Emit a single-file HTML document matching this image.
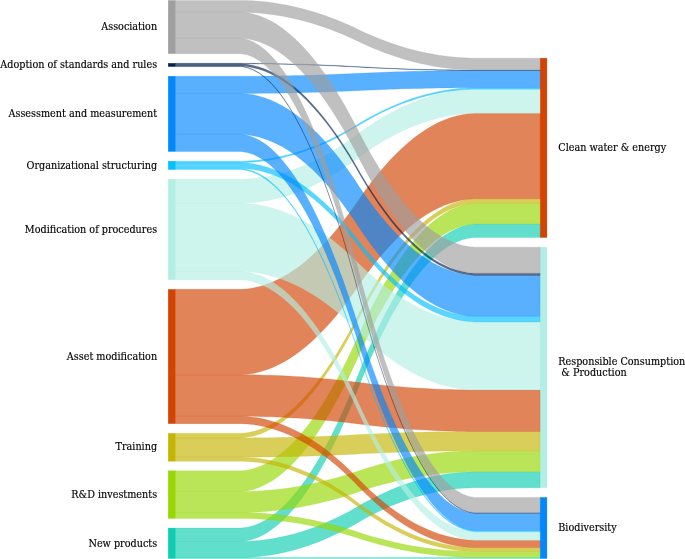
<!DOCTYPE html>
<html><head><meta charset="utf-8"><style>
html,body{margin:0;padding:0;background:#fff;width:685px;height:559px;overflow:hidden}
svg{display:block}
text{font-family:"DejaVu Serif","Liberation Serif",serif;font-size:10.40px;fill:#000;stroke:#000;stroke-width:0.15px;white-space:pre}
</style></head><body>
<svg width="685" height="559" viewBox="0 0 685 559">
<rect width="685" height="559" fill="#fff"/>
<rect x="168.20" y="528.06" width="7.10" height="30.51" fill="rgb(12,204,176)" stroke="rgb(12,204,176)" stroke-width="0.30" fill-opacity="0.99" stroke-opacity="0.99"/>
<rect x="168.20" y="470.84" width="7.10" height="47.60" fill="rgb(150,215,0)" stroke="rgb(150,215,0)" stroke-width="0.30" fill-opacity="0.99" stroke-opacity="0.99"/>
<rect x="168.20" y="433.29" width="7.10" height="27.92" fill="rgb(196,180,0)" stroke="rgb(196,180,0)" stroke-width="0.30" fill-opacity="0.99" stroke-opacity="0.99"/>
<rect x="168.20" y="289.34" width="7.10" height="134.33" fill="rgb(210,66,0)" stroke="rgb(210,66,0)" stroke-width="0.30" fill-opacity="0.99" stroke-opacity="0.99"/>
<rect x="168.20" y="179.21" width="7.10" height="100.51" fill="rgb(178,238,228)" stroke="rgb(178,238,228)" stroke-width="0.30" fill-opacity="0.99" stroke-opacity="0.99"/>
<rect x="168.20" y="161.14" width="7.10" height="8.44" fill="rgb(0,191,255)" stroke="rgb(0,191,255)" stroke-width="0.30" fill-opacity="0.99" stroke-opacity="0.99"/>
<rect x="168.20" y="76.24" width="7.10" height="75.28" fill="rgb(0,134,255)" stroke="rgb(0,134,255)" stroke-width="0.30" fill-opacity="0.99" stroke-opacity="0.99"/>
<rect x="168.20" y="63.28" width="7.10" height="3.34" fill="rgb(0,32,78)" stroke="rgb(0,32,78)" stroke-width="0.30" fill-opacity="0.99" stroke-opacity="0.99"/>
<rect x="168.20" y="0.42" width="7.10" height="53.23" fill="rgb(158,158,158)" stroke="rgb(158,158,158)" stroke-width="0.30" fill-opacity="0.99" stroke-opacity="0.99"/>
<rect x="540.10" y="497.40" width="6.85" height="61.17" fill="rgb(0,134,255)" stroke="rgb(0,134,255)" stroke-width="0.30" fill-opacity="0.99" stroke-opacity="0.99"/>
<rect x="540.10" y="247.15" width="6.85" height="240.63" fill="rgb(178,238,228)" stroke="rgb(178,238,228)" stroke-width="0.30" fill-opacity="0.99" stroke-opacity="0.99"/>
<rect x="540.10" y="58.16" width="6.85" height="179.36" fill="rgb(210,66,0)" stroke="rgb(210,66,0)" stroke-width="0.30" fill-opacity="0.99" stroke-opacity="0.99"/>
<path d="M175.30 557.55 L540.10 557.55 L540.10 558.57 L175.30 558.57Z" fill="rgb(12,204,176)" fill-opacity="0.65" stroke="rgb(12,204,176)" stroke-opacity="0.65" stroke-width="0.30"/>
<path d="M175.30 541.50 L241.08 541.50 L247.06 541.33 L253.04 540.98 L259.02 540.45 L265.00 539.76 L270.99 538.88 L276.97 537.84 L282.95 536.62 L288.93 535.22 L294.91 533.65 L300.89 531.91 L306.87 529.99 L312.85 527.89 L318.83 525.63 L324.81 523.18 L330.79 520.57 L336.77 517.78 L342.75 514.81 L348.73 511.67 L354.71 508.36 L360.69 504.87 L366.67 501.55 L372.65 498.42 L378.63 495.45 L384.61 492.66 L390.59 490.04 L396.57 487.60 L402.55 485.33 L408.53 483.24 L414.51 481.32 L420.49 479.58 L426.47 478.01 L432.45 476.61 L438.43 475.39 L444.41 474.34 L450.40 473.47 L456.38 472.77 L462.36 472.25 L468.34 471.90 L474.32 471.73 L540.10 471.73 L540.10 487.78 L474.32 487.78 L468.34 487.95 L462.36 488.30 L456.38 488.82 L450.40 489.52 L444.41 490.39 L438.43 491.44 L432.45 492.66 L426.47 494.06 L420.49 495.63 L414.51 497.37 L408.53 499.29 L402.55 501.38 L396.57 503.65 L390.59 506.09 L384.61 508.71 L378.63 511.50 L372.65 514.47 L366.67 517.60 L360.69 520.92 L354.71 524.41 L348.73 527.72 L342.75 530.86 L336.77 533.83 L330.79 536.62 L324.81 539.23 L318.83 541.68 L312.85 543.94 L306.87 546.04 L300.89 547.96 L294.91 549.70 L288.93 551.27 L282.95 552.67 L276.97 553.89 L270.99 554.93 L265.00 555.81 L259.02 556.50 L253.04 557.03 L247.06 557.38 L241.08 557.55 L175.30 557.55Z" fill="rgb(12,204,176)" fill-opacity="0.65" stroke="rgb(12,204,176)" stroke-opacity="0.65" stroke-width="0.30"/>
<path d="M175.30 528.06 L241.08 528.06 L247.06 527.30 L253.04 525.78 L259.02 523.50 L265.00 520.46 L270.99 516.66 L276.97 512.10 L282.95 506.78 L288.93 500.70 L294.91 493.86 L300.89 486.26 L306.87 477.90 L312.85 468.78 L318.83 458.91 L324.81 448.27 L330.79 436.87 L336.77 424.71 L342.75 411.79 L348.73 398.11 L354.71 383.67 L360.69 368.47 L366.67 354.03 L372.65 340.35 L378.63 327.44 L384.61 315.28 L390.59 303.88 L396.57 293.24 L402.55 283.36 L408.53 274.24 L414.51 265.88 L420.49 258.28 L426.47 251.44 L432.45 245.36 L438.43 240.04 L444.41 235.48 L450.40 231.68 L456.38 228.64 L462.36 226.36 L468.34 224.84 L474.32 224.08 L540.10 224.08 L540.10 237.52 L474.32 237.52 L468.34 238.28 L462.36 239.80 L456.38 242.08 L450.40 245.12 L444.41 248.92 L438.43 253.48 L432.45 258.80 L426.47 264.88 L420.49 271.72 L414.51 279.32 L408.53 287.68 L402.55 296.80 L396.57 306.68 L390.59 317.32 L384.61 328.72 L378.63 340.88 L372.65 353.79 L366.67 367.47 L360.69 381.91 L354.71 397.11 L348.73 411.55 L342.75 425.23 L336.77 438.15 L330.79 450.31 L324.81 461.71 L318.83 472.35 L312.85 482.22 L306.87 491.34 L300.89 499.70 L294.91 507.30 L288.93 514.14 L282.95 520.22 L276.97 525.54 L270.99 530.10 L265.00 533.90 L259.02 536.94 L253.04 539.22 L247.06 540.74 L241.08 541.50 L175.30 541.50Z" fill="rgb(12,204,176)" fill-opacity="0.65" stroke="rgb(12,204,176)" stroke-opacity="0.65" stroke-width="0.30"/>
<path d="M175.30 512.49 L241.08 512.49 L247.06 512.58 L253.04 512.78 L259.02 513.07 L265.00 513.46 L270.99 513.95 L276.97 514.54 L282.95 515.22 L288.93 516.01 L294.91 516.89 L300.89 517.86 L306.87 518.94 L312.85 520.11 L318.83 521.39 L324.81 522.75 L330.79 524.22 L336.77 525.79 L342.75 527.45 L348.73 529.21 L354.71 531.07 L360.69 533.02 L366.67 534.88 L372.65 536.64 L378.63 538.30 L384.61 539.87 L390.59 541.33 L396.57 542.70 L402.55 543.97 L408.53 545.15 L414.51 546.22 L420.49 547.20 L426.47 548.08 L432.45 548.86 L438.43 549.55 L444.41 550.13 L450.40 550.62 L456.38 551.01 L462.36 551.31 L468.34 551.50 L474.32 551.60 L540.10 551.60 L540.10 557.55 L474.32 557.55 L468.34 557.45 L462.36 557.26 L456.38 556.96 L450.40 556.57 L444.41 556.08 L438.43 555.50 L432.45 554.81 L426.47 554.03 L420.49 553.15 L414.51 552.17 L408.53 551.10 L402.55 549.92 L396.57 548.65 L390.59 547.28 L384.61 545.82 L378.63 544.25 L372.65 542.59 L366.67 540.83 L360.69 538.97 L354.71 537.02 L348.73 535.16 L342.75 533.40 L336.77 531.74 L330.79 530.17 L324.81 528.70 L318.83 527.34 L312.85 526.06 L306.87 524.89 L300.89 523.81 L294.91 522.84 L288.93 521.96 L282.95 521.17 L276.97 520.49 L270.99 519.90 L265.00 519.41 L259.02 519.02 L253.04 518.73 L247.06 518.53 L241.08 518.44 L175.30 518.44Z" fill="rgb(150,215,0)" fill-opacity="0.65" stroke="rgb(150,215,0)" stroke-opacity="0.65" stroke-width="0.30"/>
<path d="M175.30 491.56 L241.08 491.56 L247.06 491.45 L253.04 491.25 L259.02 490.95 L265.00 490.54 L270.99 490.03 L276.97 489.42 L282.95 488.70 L288.93 487.89 L294.91 486.97 L300.89 485.95 L306.87 484.83 L312.85 483.61 L318.83 482.28 L324.81 480.86 L330.79 479.33 L336.77 477.70 L342.75 475.97 L348.73 474.13 L354.71 472.20 L360.69 470.16 L366.67 468.22 L372.65 466.39 L378.63 464.66 L384.61 463.02 L390.59 461.50 L396.57 460.07 L402.55 458.75 L408.53 457.52 L414.51 456.40 L420.49 455.38 L426.47 454.47 L432.45 453.65 L438.43 452.94 L444.41 452.33 L450.40 451.82 L456.38 451.41 L462.36 451.10 L468.34 450.90 L474.32 450.80 L540.10 450.80 L540.10 471.73 L474.32 471.73 L468.34 471.83 L462.36 472.03 L456.38 472.34 L450.40 472.75 L444.41 473.26 L438.43 473.87 L432.45 474.58 L426.47 475.40 L420.49 476.31 L414.51 477.33 L408.53 478.45 L402.55 479.68 L396.57 481.00 L390.59 482.43 L384.61 483.95 L378.63 485.59 L372.65 487.32 L366.67 489.15 L360.69 491.09 L354.71 493.13 L348.73 495.06 L342.75 496.90 L336.77 498.63 L330.79 500.26 L324.81 501.79 L318.83 503.21 L312.85 504.54 L306.87 505.76 L300.89 506.88 L294.91 507.90 L288.93 508.82 L282.95 509.63 L276.97 510.35 L270.99 510.96 L265.00 511.47 L259.02 511.88 L253.04 512.18 L247.06 512.38 L241.08 512.49 L175.30 512.49Z" fill="rgb(150,215,0)" fill-opacity="0.65" stroke="rgb(150,215,0)" stroke-opacity="0.65" stroke-width="0.30"/>
<path d="M175.30 470.84 L241.08 470.84 L247.06 470.17 L253.04 468.83 L259.02 466.82 L265.00 464.15 L270.99 460.81 L276.97 456.79 L282.95 452.11 L288.93 446.76 L294.91 440.75 L300.89 434.06 L306.87 426.70 L312.85 418.68 L318.83 409.99 L324.81 400.63 L330.79 390.59 L336.77 379.90 L342.75 368.53 L348.73 356.49 L354.71 343.79 L360.69 330.41 L366.67 317.71 L372.65 305.67 L378.63 294.30 L384.61 283.61 L390.59 273.58 L396.57 264.21 L402.55 255.52 L408.53 247.50 L414.51 240.14 L420.49 233.45 L426.47 227.44 L432.45 222.09 L438.43 217.41 L444.41 213.39 L450.40 210.05 L456.38 207.38 L462.36 205.37 L468.34 204.03 L474.32 203.36 L540.10 203.36 L540.10 224.08 L474.32 224.08 L468.34 224.75 L462.36 226.09 L456.38 228.10 L450.40 230.77 L444.41 234.11 L438.43 238.13 L432.45 242.81 L426.47 248.16 L420.49 254.17 L414.51 260.86 L408.53 268.22 L402.55 276.24 L396.57 284.93 L390.59 294.30 L384.61 304.33 L378.63 315.02 L372.65 326.39 L366.67 338.43 L360.69 351.13 L354.71 364.51 L348.73 377.21 L342.75 389.25 L336.77 400.62 L330.79 411.31 L324.81 421.35 L318.83 430.71 L312.85 439.40 L306.87 447.42 L300.89 454.78 L294.91 461.47 L288.93 467.48 L282.95 472.83 L276.97 477.51 L270.99 481.53 L265.00 484.87 L259.02 487.54 L253.04 489.55 L247.06 490.89 L241.08 491.56 L175.30 491.56Z" fill="rgb(150,215,0)" fill-opacity="0.65" stroke="rgb(150,215,0)" stroke-opacity="0.65" stroke-width="0.30"/>
<path d="M175.30 457.21 L241.08 457.21 L247.06 457.44 L253.04 457.89 L259.02 458.57 L265.00 459.47 L270.99 460.60 L276.97 461.96 L282.95 463.54 L288.93 465.35 L294.91 467.38 L300.89 469.64 L306.87 472.13 L312.85 474.84 L318.83 477.78 L324.81 480.94 L330.79 484.33 L336.77 487.94 L342.75 491.79 L348.73 495.85 L354.71 500.15 L360.69 504.67 L366.67 508.96 L372.65 513.03 L378.63 516.87 L384.61 520.48 L390.59 523.87 L396.57 527.04 L402.55 529.97 L408.53 532.69 L414.51 535.17 L420.49 537.43 L426.47 539.47 L432.45 541.27 L438.43 542.85 L444.41 544.21 L450.40 545.34 L456.38 546.24 L462.36 546.92 L468.34 547.37 L474.32 547.60 L540.10 547.60 L540.10 551.60 L474.32 551.60 L468.34 551.37 L462.36 550.92 L456.38 550.24 L450.40 549.34 L444.41 548.21 L438.43 546.85 L432.45 545.27 L426.47 543.47 L420.49 541.43 L414.51 539.17 L408.53 536.69 L402.55 533.97 L396.57 531.04 L390.59 527.87 L384.61 524.48 L378.63 520.87 L372.65 517.03 L366.67 512.96 L360.69 508.67 L354.71 504.15 L348.73 499.85 L342.75 495.79 L336.77 491.94 L330.79 488.33 L324.81 484.94 L318.83 481.78 L312.85 478.84 L306.87 476.13 L300.89 473.64 L294.91 471.38 L288.93 469.35 L282.95 467.54 L276.97 465.96 L270.99 464.60 L265.00 463.47 L259.02 462.57 L253.04 461.89 L247.06 461.44 L241.08 461.21 L175.30 461.21Z" fill="rgb(196,180,0)" fill-opacity="0.65" stroke="rgb(196,180,0)" stroke-opacity="0.65" stroke-width="0.30"/>
<path d="M175.30 437.90 L241.08 437.90 L247.06 437.89 L253.04 437.86 L259.02 437.81 L265.00 437.74 L270.99 437.66 L276.97 437.57 L282.95 437.45 L288.93 437.33 L294.91 437.18 L300.89 437.02 L306.87 436.84 L312.85 436.65 L318.83 436.44 L324.81 436.22 L330.79 435.98 L336.77 435.72 L342.75 435.45 L348.73 435.16 L354.71 434.86 L360.69 434.53 L366.67 434.23 L372.65 433.94 L378.63 433.67 L384.61 433.41 L390.59 433.17 L396.57 432.95 L402.55 432.74 L408.53 432.55 L414.51 432.37 L420.49 432.21 L426.47 432.06 L432.45 431.94 L438.43 431.82 L444.41 431.73 L450.40 431.65 L456.38 431.58 L462.36 431.53 L468.34 431.50 L474.32 431.49 L540.10 431.49 L540.10 450.80 L474.32 450.80 L468.34 450.81 L462.36 450.84 L456.38 450.89 L450.40 450.96 L444.41 451.04 L438.43 451.13 L432.45 451.25 L426.47 451.37 L420.49 451.52 L414.51 451.68 L408.53 451.86 L402.55 452.05 L396.57 452.26 L390.59 452.48 L384.61 452.72 L378.63 452.98 L372.65 453.25 L366.67 453.54 L360.69 453.84 L354.71 454.17 L348.73 454.47 L342.75 454.76 L336.77 455.03 L330.79 455.29 L324.81 455.53 L318.83 455.75 L312.85 455.96 L306.87 456.15 L300.89 456.33 L294.91 456.49 L288.93 456.64 L282.95 456.76 L276.97 456.88 L270.99 456.97 L265.00 457.05 L259.02 457.12 L253.04 457.17 L247.06 457.20 L241.08 457.21 L175.30 457.21Z" fill="rgb(196,180,0)" fill-opacity="0.65" stroke="rgb(196,180,0)" stroke-opacity="0.65" stroke-width="0.30"/>
<path d="M175.30 433.29 L241.08 433.29 L247.06 432.71 L253.04 431.53 L259.02 429.78 L265.00 427.43 L270.99 424.50 L276.97 420.98 L282.95 416.88 L288.93 412.19 L294.91 406.91 L300.89 401.04 L306.87 394.59 L312.85 387.56 L318.83 379.94 L324.81 371.73 L330.79 362.93 L336.77 353.55 L342.75 343.58 L348.73 333.03 L354.71 321.89 L360.69 310.16 L366.67 299.02 L372.65 288.47 L378.63 278.50 L384.61 269.12 L390.59 260.32 L396.57 252.11 L402.55 244.49 L408.53 237.45 L414.51 231.00 L420.49 225.14 L426.47 219.86 L432.45 215.17 L438.43 211.07 L444.41 207.55 L450.40 204.62 L456.38 202.27 L462.36 200.51 L468.34 199.34 L474.32 198.75 L540.10 198.75 L540.10 203.36 L474.32 203.36 L468.34 203.95 L462.36 205.12 L456.38 206.88 L450.40 209.23 L444.41 212.16 L438.43 215.68 L432.45 219.78 L426.47 224.47 L420.49 229.75 L414.51 235.61 L408.53 242.06 L402.55 249.10 L396.57 256.72 L390.59 264.93 L384.61 273.73 L378.63 283.11 L372.65 293.08 L366.67 303.63 L360.69 314.77 L354.71 326.50 L348.73 337.64 L342.75 348.19 L336.77 358.16 L330.79 367.54 L324.81 376.34 L318.83 384.55 L312.85 392.17 L306.87 399.20 L300.89 405.65 L294.91 411.52 L288.93 416.80 L282.95 421.49 L276.97 425.59 L270.99 429.11 L265.00 432.04 L259.02 434.39 L253.04 436.14 L247.06 437.32 L241.08 437.90 L175.30 437.90Z" fill="rgb(196,180,0)" fill-opacity="0.65" stroke="rgb(196,180,0)" stroke-opacity="0.65" stroke-width="0.30"/>
<path d="M175.30 416.26 L241.08 416.26 L247.06 416.57 L253.04 417.19 L259.02 418.12 L265.00 419.36 L270.99 420.91 L276.97 422.77 L282.95 424.94 L288.93 427.41 L294.91 430.20 L300.89 433.30 L306.87 436.71 L312.85 440.43 L318.83 444.45 L324.81 448.79 L330.79 453.44 L336.77 458.40 L342.75 463.66 L348.73 469.24 L354.71 475.13 L360.69 481.32 L366.67 487.21 L372.65 492.79 L378.63 498.05 L384.61 503.01 L390.59 507.66 L396.57 512.00 L402.55 516.02 L408.53 519.74 L414.51 523.15 L420.49 526.25 L426.47 529.04 L432.45 531.51 L438.43 533.68 L444.41 535.54 L450.40 537.09 L456.38 538.33 L462.36 539.26 L468.34 539.88 L474.32 540.19 L540.10 540.19 L540.10 547.60 L474.32 547.60 L468.34 547.29 L462.36 546.67 L456.38 545.74 L450.40 544.50 L444.41 542.95 L438.43 541.09 L432.45 538.92 L426.47 536.45 L420.49 533.66 L414.51 530.56 L408.53 527.15 L402.55 523.43 L396.57 519.41 L390.59 515.07 L384.61 510.42 L378.63 505.46 L372.65 500.20 L366.67 494.62 L360.69 488.73 L354.71 482.54 L348.73 476.65 L342.75 471.07 L336.77 465.81 L330.79 460.85 L324.81 456.20 L318.83 451.86 L312.85 447.84 L306.87 444.12 L300.89 440.71 L294.91 437.61 L288.93 434.82 L282.95 432.35 L276.97 430.18 L270.99 428.32 L265.00 426.77 L259.02 425.53 L253.04 424.60 L247.06 423.98 L241.08 423.67 L175.30 423.67Z" fill="rgb(210,66,0)" fill-opacity="0.65" stroke="rgb(210,66,0)" stroke-opacity="0.65" stroke-width="0.30"/>
<path d="M175.30 374.75 L241.08 374.75 L247.06 374.79 L253.04 374.86 L259.02 374.98 L265.00 375.13 L270.99 375.32 L276.97 375.55 L282.95 375.82 L288.93 376.12 L294.91 376.46 L300.89 376.84 L306.87 377.26 L312.85 377.72 L318.83 378.21 L324.81 378.75 L330.79 379.32 L336.77 379.93 L342.75 380.57 L348.73 381.26 L354.71 381.98 L360.69 382.74 L366.67 383.47 L372.65 384.15 L378.63 384.80 L384.61 385.41 L390.59 385.98 L396.57 386.51 L402.55 387.01 L408.53 387.46 L414.51 387.88 L420.49 388.26 L426.47 388.61 L432.45 388.91 L438.43 389.18 L444.41 389.41 L450.40 389.60 L456.38 389.75 L462.36 389.86 L468.34 389.94 L474.32 389.98 L540.10 389.98 L540.10 431.49 L474.32 431.49 L468.34 431.45 L462.36 431.37 L456.38 431.26 L450.40 431.11 L444.41 430.92 L438.43 430.69 L432.45 430.42 L426.47 430.12 L420.49 429.77 L414.51 429.39 L408.53 428.97 L402.55 428.52 L396.57 428.02 L390.59 427.49 L384.61 426.92 L378.63 426.31 L372.65 425.66 L366.67 424.98 L360.69 424.25 L354.71 423.49 L348.73 422.77 L342.75 422.08 L336.77 421.44 L330.79 420.83 L324.81 420.26 L318.83 419.72 L312.85 419.23 L306.87 418.77 L300.89 418.35 L294.91 417.97 L288.93 417.63 L282.95 417.33 L276.97 417.06 L270.99 416.83 L265.00 416.64 L259.02 416.49 L253.04 416.37 L247.06 416.30 L241.08 416.26 L175.30 416.26Z" fill="rgb(210,66,0)" fill-opacity="0.65" stroke="rgb(210,66,0)" stroke-opacity="0.65" stroke-width="0.30"/>
<path d="M175.30 289.34 L241.08 289.34 L247.06 288.90 L253.04 288.02 L259.02 286.70 L265.00 284.94 L270.99 282.74 L276.97 280.10 L282.95 277.02 L288.93 273.50 L294.91 269.54 L300.89 265.14 L306.87 260.30 L312.85 255.02 L318.83 249.30 L324.81 243.14 L330.79 236.54 L336.77 229.50 L342.75 222.02 L348.73 214.10 L354.71 205.74 L360.69 196.94 L366.67 188.58 L372.65 180.66 L378.63 173.18 L384.61 166.14 L390.59 159.54 L396.57 153.38 L402.55 147.66 L408.53 142.38 L414.51 137.54 L420.49 133.14 L426.47 129.18 L432.45 125.66 L438.43 122.58 L444.41 119.94 L450.40 117.74 L456.38 115.98 L462.36 114.66 L468.34 113.78 L474.32 113.34 L540.10 113.34 L540.10 198.75 L474.32 198.75 L468.34 199.19 L462.36 200.07 L456.38 201.39 L450.40 203.15 L444.41 205.35 L438.43 207.99 L432.45 211.07 L426.47 214.59 L420.49 218.55 L414.51 222.95 L408.53 227.79 L402.55 233.07 L396.57 238.79 L390.59 244.95 L384.61 251.55 L378.63 258.59 L372.65 266.07 L366.67 273.99 L360.69 282.35 L354.71 291.15 L348.73 299.51 L342.75 307.43 L336.77 314.91 L330.79 321.95 L324.81 328.55 L318.83 334.71 L312.85 340.43 L306.87 345.71 L300.89 350.55 L294.91 354.95 L288.93 358.91 L282.95 362.43 L276.97 365.51 L270.99 368.15 L265.00 370.35 L259.02 372.11 L253.04 373.43 L247.06 374.31 L241.08 374.75 L175.30 374.75Z" fill="rgb(210,66,0)" fill-opacity="0.65" stroke="rgb(210,66,0)" stroke-opacity="0.65" stroke-width="0.30"/>
<path d="M175.30 271.30 L241.08 271.30 L247.06 271.95 L253.04 273.25 L259.02 275.20 L265.00 277.81 L270.99 281.06 L276.97 284.97 L282.95 289.53 L288.93 294.74 L294.91 300.60 L300.89 307.11 L306.87 314.28 L312.85 322.09 L318.83 330.55 L324.81 339.67 L330.79 349.44 L336.77 359.86 L342.75 370.93 L348.73 382.65 L354.71 395.02 L360.69 408.05 L366.67 420.42 L372.65 432.14 L378.63 443.21 L384.61 453.63 L390.59 463.40 L396.57 472.51 L402.55 480.98 L408.53 488.79 L414.51 495.95 L420.49 502.47 L426.47 508.33 L432.45 513.54 L438.43 518.10 L444.41 522.00 L450.40 525.26 L456.38 527.86 L462.36 529.82 L468.34 531.12 L474.32 531.77 L540.10 531.77 L540.10 540.19 L474.32 540.19 L468.34 539.54 L462.36 538.24 L456.38 536.28 L450.40 533.68 L444.41 530.42 L438.43 526.52 L432.45 521.96 L426.47 516.75 L420.49 510.89 L414.51 504.37 L408.53 497.21 L402.55 489.40 L396.57 480.93 L390.59 471.82 L384.61 462.05 L378.63 451.63 L372.65 440.56 L366.67 428.84 L360.69 416.47 L354.71 403.44 L348.73 391.07 L342.75 379.35 L336.77 368.28 L330.79 357.86 L324.81 348.09 L318.83 338.97 L312.85 330.51 L306.87 322.70 L300.89 315.53 L294.91 309.02 L288.93 303.16 L282.95 297.95 L276.97 293.39 L270.99 289.48 L265.00 286.23 L259.02 283.62 L253.04 281.67 L247.06 280.37 L241.08 279.72 L175.30 279.72Z" fill="rgb(178,238,228)" fill-opacity="0.65" stroke="rgb(178,238,228)" stroke-opacity="0.65" stroke-width="0.30"/>
<path d="M175.30 203.26 L241.08 203.26 L247.06 203.55 L253.04 204.15 L259.02 205.04 L265.00 206.22 L270.99 207.71 L276.97 209.49 L282.95 211.56 L288.93 213.94 L294.91 216.61 L300.89 219.58 L306.87 222.84 L312.85 226.40 L318.83 230.26 L324.81 234.41 L330.79 238.86 L336.77 243.61 L342.75 248.65 L348.73 253.99 L354.71 259.63 L360.69 265.56 L366.67 271.20 L372.65 276.54 L378.63 281.59 L384.61 286.33 L390.59 290.78 L396.57 294.94 L402.55 298.79 L408.53 302.35 L414.51 305.62 L420.49 308.59 L426.47 311.26 L432.45 313.63 L438.43 315.71 L444.41 317.49 L450.40 318.97 L456.38 320.16 L462.36 321.05 L468.34 321.64 L474.32 321.94 L540.10 321.94 L540.10 389.98 L474.32 389.98 L468.34 389.68 L462.36 389.09 L456.38 388.20 L450.40 387.01 L444.41 385.53 L438.43 383.75 L432.45 381.67 L426.47 379.30 L420.49 376.63 L414.51 373.66 L408.53 370.39 L402.55 366.83 L396.57 362.98 L390.59 358.82 L384.61 354.37 L378.63 349.63 L372.65 344.58 L366.67 339.24 L360.69 333.60 L354.71 327.67 L348.73 322.03 L342.75 316.69 L336.77 311.65 L330.79 306.90 L324.81 302.45 L318.83 298.30 L312.85 294.44 L306.87 290.88 L300.89 287.62 L294.91 284.65 L288.93 281.98 L282.95 279.60 L276.97 277.53 L270.99 275.75 L265.00 274.26 L259.02 273.08 L253.04 272.19 L247.06 271.59 L241.08 271.30 L175.30 271.30Z" fill="rgb(178,238,228)" fill-opacity="0.65" stroke="rgb(178,238,228)" stroke-opacity="0.65" stroke-width="0.30"/>
<path d="M175.30 179.21 L241.08 179.21 L247.06 178.98 L253.04 178.53 L259.02 177.86 L265.00 176.96 L270.99 175.84 L276.97 174.49 L282.95 172.91 L288.93 171.11 L294.91 169.09 L300.89 166.84 L306.87 164.37 L312.85 161.67 L318.83 158.75 L324.81 155.60 L330.79 152.23 L336.77 148.64 L342.75 144.82 L348.73 140.77 L354.71 136.50 L360.69 132.00 L366.67 127.73 L372.65 123.69 L378.63 119.86 L384.61 116.27 L390.59 112.90 L396.57 109.75 L402.55 106.83 L408.53 104.13 L414.51 101.66 L420.49 99.41 L426.47 97.39 L432.45 95.59 L438.43 94.01 L444.41 92.67 L450.40 91.54 L456.38 90.64 L462.36 89.97 L468.34 89.52 L474.32 89.29 L540.10 89.29 L540.10 113.34 L474.32 113.34 L468.34 113.57 L462.36 114.02 L456.38 114.69 L450.40 115.59 L444.41 116.72 L438.43 118.06 L432.45 119.64 L426.47 121.44 L420.49 123.46 L414.51 125.71 L408.53 128.18 L402.55 130.88 L396.57 133.80 L390.59 136.95 L384.61 140.32 L378.63 143.91 L372.65 147.74 L366.67 151.78 L360.69 156.05 L354.71 160.55 L348.73 164.82 L342.75 168.87 L336.77 172.69 L330.79 176.28 L324.81 179.65 L318.83 182.80 L312.85 185.72 L306.87 188.42 L300.89 190.89 L294.91 193.14 L288.93 195.16 L282.95 196.96 L276.97 198.54 L270.99 199.89 L265.00 201.01 L259.02 201.91 L253.04 202.58 L247.06 203.03 L241.08 203.26 L175.30 203.26Z" fill="rgb(178,238,228)" fill-opacity="0.65" stroke="rgb(178,238,228)" stroke-opacity="0.65" stroke-width="0.30"/>
<path d="M175.30 168.29 L241.08 168.29 L247.06 169.20 L253.04 171.01 L259.02 173.73 L265.00 177.35 L270.99 181.88 L276.97 187.31 L282.95 193.65 L288.93 200.89 L294.91 209.04 L300.89 218.09 L306.87 228.05 L312.85 238.92 L318.83 250.69 L324.81 263.37 L330.79 276.95 L336.77 291.44 L342.75 306.83 L348.73 323.13 L354.71 340.33 L360.69 358.44 L366.67 375.65 L372.65 391.94 L378.63 407.34 L384.61 421.82 L390.59 435.41 L396.57 448.08 L402.55 459.85 L408.53 470.72 L414.51 480.68 L420.49 489.73 L426.47 497.88 L432.45 505.13 L438.43 511.47 L444.41 516.90 L450.40 521.43 L456.38 525.05 L462.36 527.76 L468.34 529.57 L474.32 530.48 L540.10 530.48 L540.10 531.77 L474.32 531.77 L468.34 530.86 L462.36 529.05 L456.38 526.34 L450.40 522.72 L444.41 518.19 L438.43 512.76 L432.45 506.42 L426.47 499.17 L420.49 491.02 L414.51 481.97 L408.53 472.01 L402.55 461.14 L396.57 449.37 L390.59 436.70 L384.61 423.11 L378.63 408.63 L372.65 393.23 L366.67 376.94 L360.69 359.73 L354.71 341.62 L348.73 324.42 L342.75 308.12 L336.77 292.73 L330.79 278.24 L324.81 264.66 L318.83 251.98 L312.85 240.21 L306.87 229.34 L300.89 219.38 L294.91 210.33 L288.93 202.18 L282.95 194.94 L276.97 188.60 L270.99 183.17 L265.00 178.64 L259.02 175.02 L253.04 172.30 L247.06 170.49 L241.08 169.58 L175.30 169.58Z" fill="rgb(0,191,255)" fill-opacity="0.65" stroke="rgb(0,191,255)" stroke-opacity="0.65" stroke-width="0.30"/>
<path d="M175.30 162.69 L241.08 162.69 L247.06 163.08 L253.04 163.85 L259.02 165.00 L265.00 166.54 L270.99 168.46 L276.97 170.76 L282.95 173.45 L288.93 176.52 L294.91 179.98 L300.89 183.82 L306.87 188.05 L312.85 192.65 L318.83 197.65 L324.81 203.03 L330.79 208.79 L336.77 214.93 L342.75 221.46 L348.73 228.38 L354.71 235.67 L360.69 243.36 L366.67 250.65 L372.65 257.57 L378.63 264.10 L384.61 270.24 L390.59 276.01 L396.57 281.38 L402.55 286.38 L408.53 290.99 L414.51 295.21 L420.49 299.05 L426.47 302.51 L432.45 305.58 L438.43 308.27 L444.41 310.58 L450.40 312.50 L456.38 314.03 L462.36 315.18 L468.34 315.95 L474.32 316.34 L540.10 316.34 L540.10 321.94 L474.32 321.94 L468.34 321.55 L462.36 320.78 L456.38 319.63 L450.40 318.10 L444.41 316.18 L438.43 313.87 L432.45 311.18 L426.47 308.11 L420.49 304.65 L414.51 300.81 L408.53 296.59 L402.55 291.98 L396.57 286.98 L390.59 281.61 L384.61 275.84 L378.63 269.70 L372.65 263.17 L366.67 256.25 L360.69 248.96 L354.71 241.27 L348.73 233.98 L342.75 227.06 L336.77 220.53 L330.79 214.39 L324.81 208.63 L318.83 203.25 L312.85 198.25 L306.87 193.65 L300.89 189.42 L294.91 185.58 L288.93 182.12 L282.95 179.05 L276.97 176.36 L270.99 174.06 L265.00 172.14 L259.02 170.60 L253.04 169.45 L247.06 168.68 L241.08 168.29 L175.30 168.29Z" fill="rgb(0,191,255)" fill-opacity="0.65" stroke="rgb(0,191,255)" stroke-opacity="0.65" stroke-width="0.30"/>
<path d="M175.30 161.14 L241.08 161.14 L247.06 160.96 L253.04 160.59 L259.02 160.04 L265.00 159.31 L270.99 158.39 L276.97 157.29 L282.95 156.01 L288.93 154.54 L294.91 152.89 L300.89 151.05 L306.87 149.03 L312.85 146.83 L318.83 144.45 L324.81 141.88 L330.79 139.12 L336.77 136.19 L342.75 133.07 L348.73 129.77 L354.71 126.28 L360.69 122.61 L366.67 119.12 L372.65 115.82 L378.63 112.70 L384.61 109.76 L390.59 107.01 L396.57 104.44 L402.55 102.06 L408.53 99.85 L414.51 97.84 L420.49 96.00 L426.47 94.35 L432.45 92.88 L438.43 91.60 L444.41 90.50 L450.40 89.58 L456.38 88.84 L462.36 88.29 L468.34 87.93 L474.32 87.74 L540.10 87.74 L540.10 89.29 L474.32 89.29 L468.34 89.48 L462.36 89.84 L456.38 90.39 L450.40 91.13 L444.41 92.05 L438.43 93.15 L432.45 94.43 L426.47 95.90 L420.49 97.55 L414.51 99.39 L408.53 101.40 L402.55 103.61 L396.57 105.99 L390.59 108.56 L384.61 111.31 L378.63 114.25 L372.65 117.37 L366.67 120.67 L360.69 124.16 L354.71 127.83 L348.73 131.32 L342.75 134.62 L336.77 137.74 L330.79 140.67 L324.81 143.43 L318.83 146.00 L312.85 148.38 L306.87 150.58 L300.89 152.60 L294.91 154.44 L288.93 156.09 L282.95 157.56 L276.97 158.84 L270.99 159.94 L265.00 160.86 L259.02 161.59 L253.04 162.14 L247.06 162.51 L241.08 162.69 L175.30 162.69Z" fill="rgb(0,191,255)" fill-opacity="0.65" stroke="rgb(0,191,255)" stroke-opacity="0.65" stroke-width="0.30"/>
<path d="M175.30 134.38 L241.08 134.38 L247.06 135.33 L253.04 137.22 L259.02 140.07 L265.00 143.85 L270.99 148.59 L276.97 154.28 L282.95 160.91 L288.93 168.49 L294.91 177.01 L300.89 186.49 L306.87 196.91 L312.85 208.28 L318.83 220.59 L324.81 233.86 L330.79 248.07 L336.77 263.23 L342.75 279.33 L348.73 296.39 L354.71 314.39 L360.69 333.33 L366.67 351.33 L372.65 368.39 L378.63 384.49 L384.61 399.65 L390.59 413.86 L396.57 427.13 L402.55 439.44 L408.53 450.81 L414.51 461.23 L420.49 470.71 L426.47 479.23 L432.45 486.81 L438.43 493.44 L444.41 499.13 L450.40 503.87 L456.38 507.66 L462.36 510.50 L468.34 512.39 L474.32 513.34 L540.10 513.34 L540.10 530.48 L474.32 530.48 L468.34 529.53 L462.36 527.64 L456.38 524.80 L450.40 521.01 L444.41 516.27 L438.43 510.58 L432.45 503.95 L426.47 496.37 L420.49 487.85 L414.51 478.37 L408.53 467.95 L402.55 456.58 L396.57 444.27 L390.59 431.00 L384.61 416.79 L378.63 401.63 L372.65 385.53 L366.67 368.47 L360.69 350.47 L354.71 331.53 L348.73 313.53 L342.75 296.47 L336.77 280.37 L330.79 265.21 L324.81 251.00 L318.83 237.73 L312.85 225.42 L306.87 214.05 L300.89 203.63 L294.91 194.15 L288.93 185.63 L282.95 178.05 L276.97 171.42 L270.99 165.73 L265.00 160.99 L259.02 157.21 L253.04 154.36 L247.06 152.47 L241.08 151.52 L175.30 151.52Z" fill="rgb(0,134,255)" fill-opacity="0.65" stroke="rgb(0,134,255)" stroke-opacity="0.65" stroke-width="0.30"/>
<path d="M175.30 93.44 L241.08 93.44 L247.06 93.90 L253.04 94.81 L259.02 96.17 L265.00 97.99 L270.99 100.26 L276.97 102.99 L282.95 106.18 L288.93 109.82 L294.91 113.91 L300.89 118.46 L306.87 123.46 L312.85 128.92 L318.83 134.84 L324.81 141.20 L330.79 148.03 L336.77 155.31 L342.75 163.04 L348.73 171.23 L354.71 179.87 L360.69 188.97 L366.67 197.61 L372.65 205.80 L378.63 213.53 L384.61 220.81 L390.59 227.63 L396.57 234.00 L402.55 239.92 L408.53 245.37 L414.51 250.38 L420.49 254.93 L426.47 259.02 L432.45 262.66 L438.43 265.84 L444.41 268.57 L450.40 270.85 L456.38 272.67 L462.36 274.03 L468.34 274.94 L474.32 275.40 L540.10 275.40 L540.10 316.34 L474.32 316.34 L468.34 315.88 L462.36 314.97 L456.38 313.61 L450.40 311.79 L444.41 309.51 L438.43 306.78 L432.45 303.60 L426.47 299.96 L420.49 295.87 L414.51 291.32 L408.53 286.31 L402.55 280.86 L396.57 274.94 L390.59 268.57 L384.61 261.75 L378.63 254.47 L372.65 246.74 L366.67 238.55 L360.69 229.91 L354.71 220.81 L348.73 212.17 L342.75 203.98 L336.77 196.25 L330.79 188.97 L324.81 182.14 L318.83 175.78 L312.85 169.86 L306.87 164.40 L300.89 159.40 L294.91 154.85 L288.93 150.76 L282.95 147.12 L276.97 143.93 L270.99 141.20 L265.00 138.93 L259.02 137.11 L253.04 135.75 L247.06 134.84 L241.08 134.38 L175.30 134.38Z" fill="rgb(0,134,255)" fill-opacity="0.65" stroke="rgb(0,134,255)" stroke-opacity="0.65" stroke-width="0.30"/>
<path d="M175.30 76.24 L241.08 76.24 L247.06 76.23 L253.04 76.20 L259.02 76.16 L265.00 76.10 L270.99 76.03 L276.97 75.94 L282.95 75.84 L288.93 75.73 L294.91 75.60 L300.89 75.46 L306.87 75.30 L312.85 75.13 L318.83 74.94 L324.81 74.75 L330.79 74.53 L336.77 74.30 L342.75 74.06 L348.73 73.81 L354.71 73.53 L360.69 73.25 L366.67 72.98 L372.65 72.72 L378.63 72.48 L384.61 72.25 L390.59 72.04 L396.57 71.84 L402.55 71.65 L408.53 71.48 L414.51 71.33 L420.49 71.18 L426.47 71.06 L432.45 70.94 L438.43 70.84 L444.41 70.76 L450.40 70.69 L456.38 70.63 L462.36 70.59 L468.34 70.56 L474.32 70.54 L540.10 70.54 L540.10 87.74 L474.32 87.74 L468.34 87.76 L462.36 87.79 L456.38 87.83 L450.40 87.89 L444.41 87.96 L438.43 88.04 L432.45 88.14 L426.47 88.26 L420.49 88.38 L414.51 88.53 L408.53 88.68 L402.55 88.85 L396.57 89.04 L390.59 89.24 L384.61 89.45 L378.63 89.68 L372.65 89.92 L366.67 90.18 L360.69 90.45 L354.71 90.73 L348.73 91.01 L342.75 91.26 L336.77 91.50 L330.79 91.73 L324.81 91.95 L318.83 92.14 L312.85 92.33 L306.87 92.50 L300.89 92.66 L294.91 92.80 L288.93 92.93 L282.95 93.04 L276.97 93.14 L270.99 93.23 L265.00 93.30 L259.02 93.36 L253.04 93.40 L247.06 93.43 L241.08 93.44 L175.30 93.44Z" fill="rgb(0,134,255)" fill-opacity="0.65" stroke="rgb(0,134,255)" stroke-opacity="0.65" stroke-width="0.30"/>
<path d="M175.30 66.07 L241.08 66.07 L247.06 67.18 L253.04 69.42 L259.02 72.77 L265.00 77.24 L270.99 82.82 L276.97 89.52 L282.95 97.34 L288.93 106.27 L294.91 116.32 L300.89 127.49 L306.87 139.78 L312.85 153.18 L318.83 167.70 L324.81 183.33 L330.79 200.08 L336.77 217.95 L342.75 236.94 L348.73 257.04 L354.71 278.26 L360.69 300.60 L366.67 321.82 L372.65 341.92 L378.63 360.90 L384.61 378.77 L390.59 395.53 L396.57 411.16 L402.55 425.68 L408.53 439.08 L414.51 451.37 L420.49 462.53 L426.47 472.58 L432.45 481.52 L438.43 489.34 L444.41 496.04 L450.40 501.62 L456.38 506.09 L462.36 509.44 L468.34 511.67 L474.32 512.79 L540.10 512.79 L540.10 513.34 L474.32 513.34 L468.34 512.22 L462.36 509.99 L456.38 506.64 L450.40 502.17 L444.41 496.59 L438.43 489.89 L432.45 482.07 L426.47 473.13 L420.49 463.08 L414.51 451.92 L408.53 439.63 L402.55 426.23 L396.57 411.71 L390.59 396.08 L384.61 379.32 L378.63 361.45 L372.65 342.47 L366.67 322.37 L360.69 301.15 L354.71 278.81 L348.73 257.59 L342.75 237.49 L336.77 218.50 L330.79 200.63 L324.81 183.88 L318.83 168.25 L312.85 153.73 L306.87 140.33 L300.89 128.04 L294.91 116.87 L288.93 106.82 L282.95 97.89 L276.97 90.07 L270.99 83.37 L265.00 77.79 L259.02 73.32 L253.04 69.97 L247.06 67.73 L241.08 66.62 L175.30 66.62Z" fill="rgb(0,32,78)" fill-opacity="0.65" stroke="rgb(0,32,78)" stroke-opacity="0.65" stroke-width="0.30"/>
<path d="M175.30 63.83 L241.08 63.83 L247.06 64.35 L253.04 65.40 L259.02 66.97 L265.00 69.06 L270.99 71.68 L276.97 74.82 L282.95 78.48 L288.93 82.67 L294.91 87.38 L300.89 92.61 L306.87 98.37 L312.85 104.65 L318.83 111.45 L324.81 118.78 L330.79 126.63 L336.77 135.00 L342.75 143.90 L348.73 153.32 L354.71 163.26 L360.69 173.73 L366.67 183.67 L372.65 193.09 L378.63 201.98 L384.61 210.36 L390.59 218.21 L396.57 225.53 L402.55 232.34 L408.53 238.62 L414.51 244.37 L420.49 249.61 L426.47 254.32 L432.45 258.50 L438.43 262.17 L444.41 265.31 L450.40 267.92 L456.38 270.02 L462.36 271.59 L468.34 272.63 L474.32 273.16 L540.10 273.16 L540.10 275.40 L474.32 275.40 L468.34 274.87 L462.36 273.83 L456.38 272.26 L450.40 270.16 L444.41 267.55 L438.43 264.41 L432.45 260.74 L426.47 256.56 L420.49 251.85 L414.51 246.61 L408.53 240.86 L402.55 234.58 L396.57 227.77 L390.59 220.45 L384.61 212.60 L378.63 204.22 L372.65 195.33 L366.67 185.91 L360.69 175.97 L354.71 165.50 L348.73 155.56 L342.75 146.14 L336.77 137.24 L330.79 128.87 L324.81 121.02 L318.83 113.69 L312.85 106.89 L306.87 100.61 L300.89 94.85 L294.91 89.62 L288.93 84.91 L282.95 80.72 L276.97 77.06 L270.99 73.92 L265.00 71.30 L259.02 69.21 L253.04 67.64 L247.06 66.59 L241.08 66.07 L175.30 66.07Z" fill="rgb(0,32,78)" fill-opacity="0.65" stroke="rgb(0,32,78)" stroke-opacity="0.65" stroke-width="0.30"/>
<path d="M175.30 63.28 L241.08 63.28 L247.06 63.29 L253.04 63.33 L259.02 63.38 L265.00 63.45 L270.99 63.53 L276.97 63.63 L282.95 63.75 L288.93 63.88 L294.91 64.03 L300.89 64.20 L306.87 64.39 L312.85 64.59 L318.83 64.81 L324.81 65.04 L330.79 65.29 L336.77 65.56 L342.75 65.85 L348.73 66.15 L354.71 66.47 L360.69 66.80 L366.67 67.12 L372.65 67.42 L378.63 67.71 L384.61 67.98 L390.59 68.23 L396.57 68.47 L402.55 68.68 L408.53 68.89 L414.51 69.07 L420.49 69.24 L426.47 69.39 L432.45 69.52 L438.43 69.64 L444.41 69.74 L450.40 69.83 L456.38 69.89 L462.36 69.94 L468.34 69.98 L474.32 69.99 L540.10 69.99 L540.10 70.54 L474.32 70.54 L468.34 70.53 L462.36 70.49 L456.38 70.44 L450.40 70.38 L444.41 70.29 L438.43 70.19 L432.45 70.07 L426.47 69.94 L420.49 69.79 L414.51 69.62 L408.53 69.44 L402.55 69.23 L396.57 69.02 L390.59 68.78 L384.61 68.53 L378.63 68.26 L372.65 67.97 L366.67 67.67 L360.69 67.35 L354.71 67.02 L348.73 66.70 L342.75 66.40 L336.77 66.11 L330.79 65.84 L324.81 65.59 L318.83 65.36 L312.85 65.14 L306.87 64.94 L300.89 64.75 L294.91 64.58 L288.93 64.43 L282.95 64.30 L276.97 64.18 L270.99 64.08 L265.00 64.00 L259.02 63.93 L253.04 63.88 L247.06 63.84 L241.08 63.83 L175.30 63.83Z" fill="rgb(0,32,78)" fill-opacity="0.65" stroke="rgb(0,32,78)" stroke-opacity="0.65" stroke-width="0.30"/>
<path d="M175.30 38.26 L241.08 38.26 L247.06 39.41 L253.04 41.71 L259.02 45.15 L265.00 49.74 L270.99 55.48 L276.97 62.37 L282.95 70.40 L288.93 79.59 L294.91 89.92 L300.89 101.40 L306.87 114.02 L312.85 127.80 L318.83 142.72 L324.81 158.79 L330.79 176.01 L336.77 194.37 L342.75 213.88 L348.73 234.54 L354.71 256.35 L360.69 279.31 L366.67 301.12 L372.65 321.78 L378.63 341.29 L384.61 359.66 L390.59 376.88 L396.57 392.95 L402.55 407.87 L408.53 421.64 L414.51 434.27 L420.49 445.75 L426.47 456.08 L432.45 465.26 L438.43 473.30 L444.41 480.18 L450.40 485.92 L456.38 490.51 L462.36 493.96 L468.34 496.25 L474.32 497.40 L540.10 497.40 L540.10 512.79 L474.32 512.79 L468.34 511.64 L462.36 509.35 L456.38 505.90 L450.40 501.31 L444.41 495.57 L438.43 488.69 L432.45 480.65 L426.47 471.47 L420.49 461.14 L414.51 449.66 L408.53 437.03 L402.55 423.26 L396.57 408.34 L390.59 392.27 L384.61 375.05 L378.63 356.68 L372.65 337.17 L366.67 316.51 L360.69 294.70 L354.71 271.74 L348.73 249.93 L342.75 229.27 L336.77 209.76 L330.79 191.40 L324.81 174.18 L318.83 158.11 L312.85 143.19 L306.87 129.41 L300.89 116.79 L294.91 105.31 L288.93 94.98 L282.95 85.79 L276.97 77.76 L270.99 70.87 L265.00 65.13 L259.02 60.54 L253.04 57.10 L247.06 54.80 L241.08 53.65 L175.30 53.65Z" fill="rgb(158,158,158)" fill-opacity="0.65" stroke="rgb(158,158,158)" stroke-opacity="0.65" stroke-width="0.30"/>
<path d="M175.30 12.25 L241.08 12.25 L247.06 12.84 L253.04 14.02 L259.02 15.78 L265.00 18.13 L270.99 21.06 L276.97 24.59 L282.95 28.70 L288.93 33.39 L294.91 38.68 L300.89 44.55 L306.87 51.01 L312.85 58.06 L318.83 65.69 L324.81 73.91 L330.79 82.72 L336.77 92.12 L342.75 102.10 L348.73 112.67 L354.71 123.83 L360.69 135.57 L366.67 146.73 L372.65 157.30 L378.63 167.28 L384.61 176.68 L390.59 185.49 L396.57 193.71 L402.55 201.34 L408.53 208.39 L414.51 214.85 L420.49 220.72 L426.47 226.01 L432.45 230.70 L438.43 234.81 L444.41 238.34 L450.40 241.27 L456.38 243.62 L462.36 245.39 L468.34 246.56 L474.32 247.15 L540.10 247.15 L540.10 273.16 L474.32 273.16 L468.34 272.57 L462.36 271.40 L456.38 269.63 L450.40 267.28 L444.41 264.35 L438.43 260.82 L432.45 256.71 L426.47 252.02 L420.49 246.73 L414.51 240.86 L408.53 234.40 L402.55 227.35 L396.57 219.72 L390.59 211.50 L384.61 202.69 L378.63 193.29 L372.65 183.31 L366.67 172.74 L360.69 161.58 L354.71 149.84 L348.73 138.68 L342.75 128.11 L336.77 118.13 L330.79 108.73 L324.81 99.92 L318.83 91.70 L312.85 84.07 L306.87 77.02 L300.89 70.56 L294.91 64.69 L288.93 59.40 L282.95 54.71 L276.97 50.60 L270.99 47.07 L265.00 44.14 L259.02 41.79 L253.04 40.03 L247.06 38.85 L241.08 38.26 L175.30 38.26Z" fill="rgb(158,158,158)" fill-opacity="0.65" stroke="rgb(158,158,158)" stroke-opacity="0.65" stroke-width="0.30"/>
<path d="M175.30 0.42 L241.08 0.42 L247.06 0.57 L253.04 0.86 L259.02 1.29 L265.00 1.87 L270.99 2.59 L276.97 3.46 L282.95 4.47 L288.93 5.62 L294.91 6.92 L300.89 8.36 L306.87 9.95 L312.85 11.68 L318.83 13.56 L324.81 15.58 L330.79 17.75 L336.77 20.06 L342.75 22.51 L348.73 25.11 L354.71 27.85 L360.69 30.74 L366.67 33.48 L372.65 36.08 L378.63 38.53 L384.61 40.84 L390.59 43.01 L396.57 45.03 L402.55 46.90 L408.53 48.64 L414.51 50.22 L420.49 51.67 L426.47 52.97 L432.45 54.12 L438.43 55.13 L444.41 56.00 L450.40 56.72 L456.38 57.30 L462.36 57.73 L468.34 58.02 L474.32 58.16 L540.10 58.16 L540.10 69.99 L474.32 69.99 L468.34 69.85 L462.36 69.56 L456.38 69.13 L450.40 68.55 L444.41 67.83 L438.43 66.96 L432.45 65.95 L426.47 64.80 L420.49 63.50 L414.51 62.05 L408.53 60.47 L402.55 58.73 L396.57 56.86 L390.59 54.84 L384.61 52.67 L378.63 50.36 L372.65 47.91 L366.67 45.31 L360.69 42.57 L354.71 39.68 L348.73 36.94 L342.75 34.34 L336.77 31.89 L330.79 29.58 L324.81 27.41 L318.83 25.39 L312.85 23.51 L306.87 21.78 L300.89 20.19 L294.91 18.75 L288.93 17.45 L282.95 16.30 L276.97 15.29 L270.99 14.42 L265.00 13.70 L259.02 13.12 L253.04 12.69 L247.06 12.40 L241.08 12.25 L175.30 12.25Z" fill="rgb(158,158,158)" fill-opacity="0.65" stroke="rgb(158,158,158)" stroke-opacity="0.65" stroke-width="0.30"/>
<text x="157.10" y="546.52" text-anchor="end" transform="translate(157.10 0) scale(0.9288 1) translate(-157.10 0)">New products</text>
<text x="157.10" y="497.84" text-anchor="end" transform="translate(157.10 0) scale(0.9288 1) translate(-157.10 0)">R&amp;D investments</text>
<text x="157.10" y="450.45" text-anchor="end" transform="translate(157.10 0) scale(0.9288 1) translate(-157.10 0)">Training</text>
<text x="157.10" y="359.71" text-anchor="end" transform="translate(157.10 0) scale(0.9288 1) translate(-157.10 0)">Asset modification</text>
<text x="157.10" y="232.66" text-anchor="end" transform="translate(157.10 0) scale(0.9288 1) translate(-157.10 0)">Modification of procedures</text>
<text x="157.10" y="168.56" text-anchor="end" transform="translate(157.10 0) scale(0.9288 1) translate(-157.10 0)">Organizational structuring</text>
<text x="157.10" y="117.08" text-anchor="end" transform="translate(157.10 0) scale(0.9288 1) translate(-157.10 0)">Assessment and measurement</text>
<text x="157.10" y="68.15" text-anchor="end" transform="translate(157.10 0) scale(0.9288 1) translate(-157.10 0)">Adoption of standards and rules</text>
<text x="157.10" y="30.24" text-anchor="end" transform="translate(157.10 0) scale(0.9288 1) translate(-157.10 0)">Association</text>
<text x="558.30" y="531.19" transform="translate(558.30 0) scale(0.9288 1) translate(-558.30 0)">Biodiversity</text>
<text x="558.30" y="365.26" transform="translate(558.30 0) scale(0.9288 1) translate(-558.30 0)">Responsible Consumption</text>
<text x="558.30" y="376.06" transform="translate(558.30 0) scale(0.9288 1) translate(-558.30 0)"> &amp; Production</text>
<text x="558.30" y="151.04" transform="translate(558.30 0) scale(0.9288 1) translate(-558.30 0)">Clean water &amp; energy</text>
</svg>
</body></html>
